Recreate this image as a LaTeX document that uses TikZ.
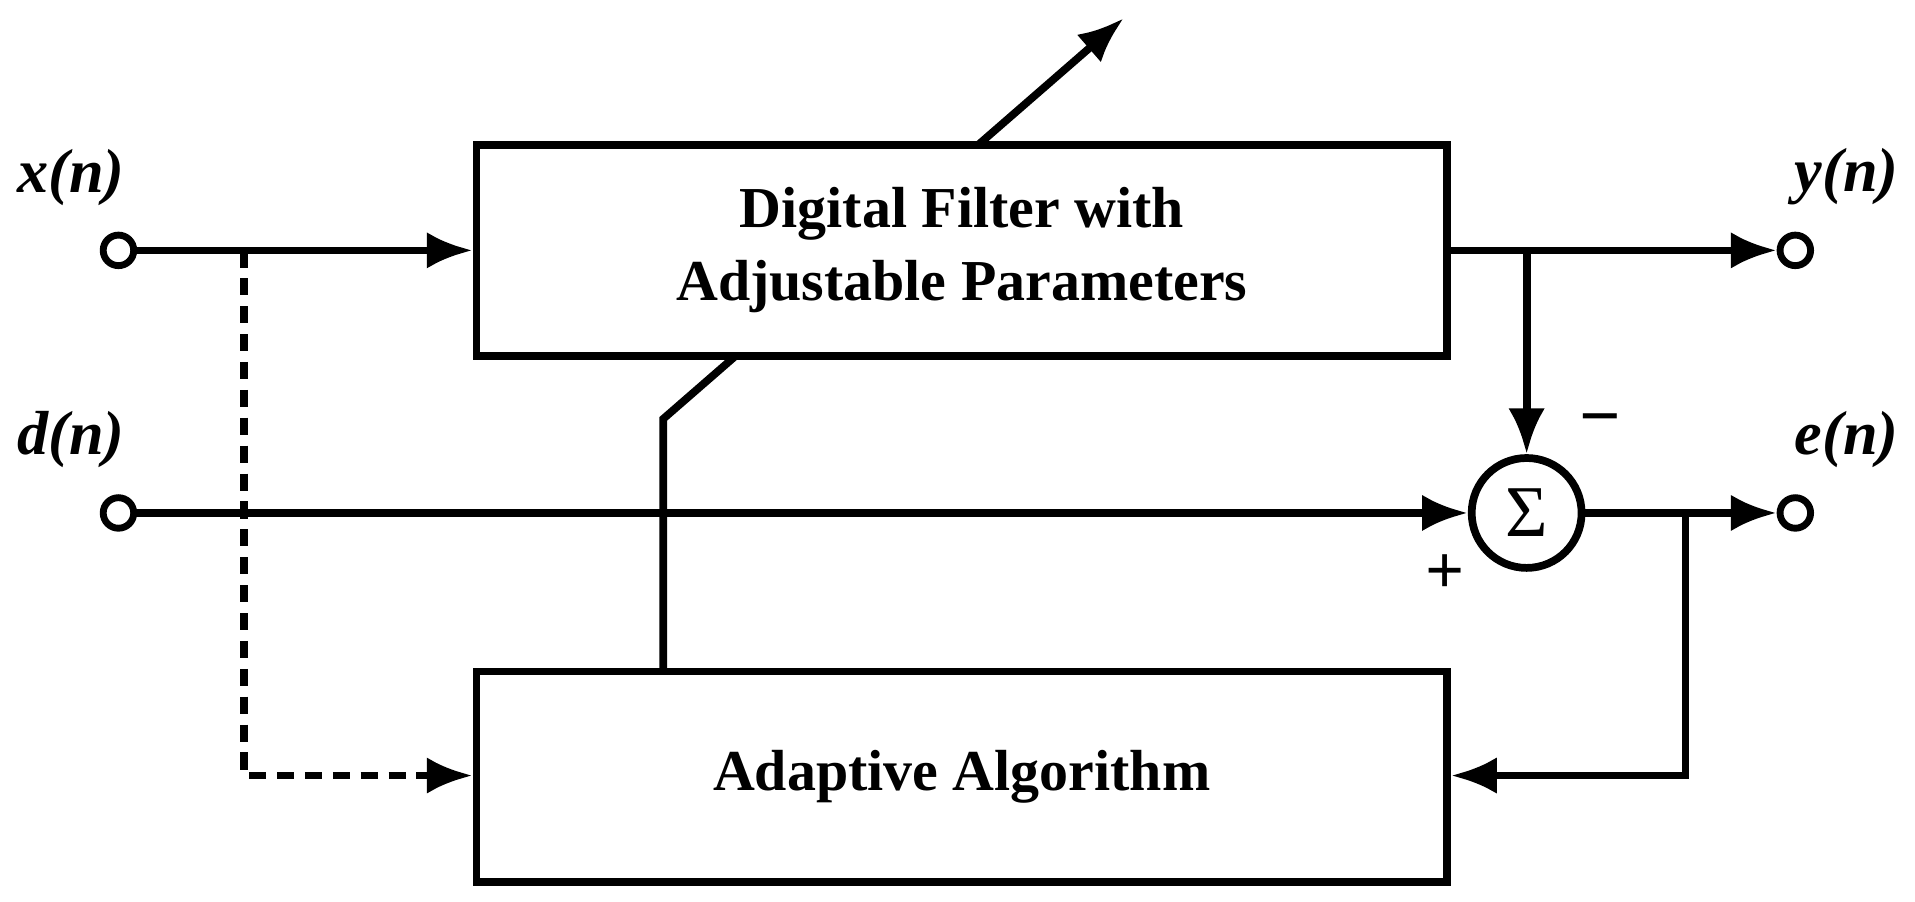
\documentclass[tikz,border=0pt]{standalone}
\usepackage{fontspec}
\setmainfont{Liberation Serif}
\usetikzlibrary{arrows.meta}
\begin{document}
\begin{tikzpicture}[x=0.02cm,y=-0.02cm,
  wire/.style={line width=3.6pt},
  arr/.style={wire,-{Latex[length=0.75cm,width=0.6cm]}},
  blk/.style={draw,line width=3.6pt,fill=white,minimum width=15.9cm,minimum height=3.45cm,inner sep=0pt,align=center,font=\fontsize{27}{34}\selectfont\bfseries},
  term/.style={circle,draw,line width=3.2pt,fill=white,minimum size=0.5cm,inner sep=0pt},
  lab/.style={font=\fontsize{29}{32}\selectfont\bfseries\itshape}]
\useasboundingbox (0,0) rectangle (1568,738);
\coordinate (ab) at (543,550);
\coordinate (ak) at (543,343);
\coordinate (at) at (920,15);
\draw[wire,-{Latex[length=0.75cm,width=0.6cm]}] (ab) -- (ak) -- (at);
\node[blk] (flt) at (787.5,205) {Digital Filter with\\Adjustable Parameters};
\node[blk] (alg) at (787.5,636) {Adaptive Algorithm};
\node[term] (x) at (97,205) {};
\node[term] (d) at (97,420) {};
\node[term] (y) at (1470,205) {};
\node[term] (e) at (1470,420) {};
\node[circle,draw,line width=3.6pt,minimum size=1.8cm,inner sep=0pt,font=\fontsize{34}{36}\selectfont] (s) at (1250,420) {Σ};
\node[lab] at (58,145) {x(n)};
\node[lab] at (58,360) {d(n)};
\node[lab] at (1512,145) {y(n)};
\node[lab] at (1512,360) {e(n)};
\node[font=\fontsize{34}{36}\selectfont\bfseries] (mn) at (1310,350) {−};
\node[font=\fontsize{32}{36}\selectfont\bfseries] (pl) at (1183,470) {+};
\coordinate (bx) at (200,205);
\coordinate (bxd) at (200,635);
\coordinate (by) at (1250,205);
\coordinate (be) at (1380,420);
\coordinate (bed) at (1380,635);
\draw[arr] (x) -- (flt.west |- x);
\draw[wire,dash pattern=on 8pt off 5pt,-{Latex[length=0.75cm,width=0.6cm]}] (bx) -- (bxd) -- (alg.west |- bxd);
\draw[arr] (d) -- (s);
\draw[arr] (flt.east |- y) -- (y);
\draw[arr] (by) -- (s);
\draw[arr] (s) -- (e);
\draw[arr] (be) -- (bed) -- (alg.east |- bed);
\end{tikzpicture}
\end{document}
